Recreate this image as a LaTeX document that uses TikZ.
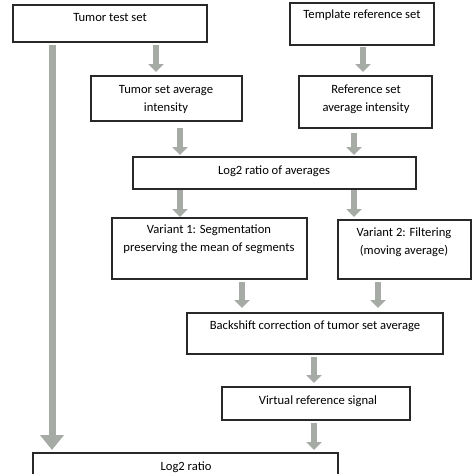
\documentclass[tikz,border=0pt]{standalone}
\usepackage{fontspec}
\setmainfont{Carlito}
\usetikzlibrary{arrows.meta}
\definecolor{arrowc}{RGB}{166,171,166}
\definecolor{boxc}{RGB}{40,40,40}
\tikzset{
  box/.style={draw=boxc, line width=1.2pt, inner sep=0pt, outer sep=0pt, fill=white},
  txt/.style={font=\fontsize{12.6}{18}\selectfont, align=center, inner sep=0pt, anchor=mid, text=black},
  txtc/.style={font=\fontsize{12.6}{18}\selectfont, align=center, inner sep=0pt, anchor=center, text=black},
  garrow/.style={draw=arrowc, line width=6pt, line cap=butt, -{Triangle[width=15pt,length=8pt]}},
  bigarrow/.style={draw=arrowc, line width=7pt, line cap=butt, -{Triangle[width=23pt,length=15pt]}},
}
\begin{document}
\begin{tikzpicture}[x=1pt,y=-1pt]
\useasboundingbox (0,0) rectangle (474,474);
\clip (0,0) rectangle (474,474);
% boxes
\node[box, minimum width=194pt, minimum height=37pt] (tts) at (110,23.5) {};
\node[box, minimum width=144pt, minimum height=42pt] (trs) at (362,24) {};
\node[box, minimum width=151pt, minimum height=45pt] (tavg) at (166.5,98.5) {};
\node[box, minimum width=133pt, minimum height=52pt] (ravg) at (365.5,102) {};
\node[box, minimum width=283pt, minimum height=32pt] (lavg) at (274.5,173) {};
\node[box, minimum width=195pt, minimum height=61pt] (vone) at (209.5,248.5) {};
\node[box, minimum width=133pt, minimum height=59pt] (vtwo) at (404.5,249.5) {};
\node[box, minimum width=256pt, minimum height=41pt] (back) at (315,333.5) {};
\node[box, minimum width=188pt, minimum height=33pt] (virt) at (316,403.5) {};
\node[box, minimum width=305pt, minimum height=42pt] (lrat) at (185.5,474) {};
% texts
\node[txt] (ttst) at (110,19) {Tumor test set};
\node[txt] (trst) at (362,16) {Template reference set};
\node[txtc] (tavgt) at (166,99) {Tumor set average\\intensity};
\node[txtc] (ravgt) at (366,99) {Reference set\\average intensity};
\node[txt] (lavgt) at (274,172) {Log2 ratio of averages};
\node[txtc] (vonet) at (209,239.5) {Variant 1: Segmentation\\preserving the mean of segments};
\node[txtc] (vtwot) at (404,242) {Variant 2: Filtering\\(moving average)};
\node[txt] (backt) at (315,327) {Backshift correction of tumor set average};
\node[txt] (virtt) at (318,402) {Virtual reference signal};
\node[txt] (lratt) at (186,468) {Log2 ratio};
% arrows
\draw[bigarrow] ([yshift=-3pt]tts.south -| 52,0) -- ([yshift=3pt]lrat.north -| 52,0);
\draw[garrow] ([yshift=-3pt]tts.south -| 156,0) -- ([yshift=4pt]tavg.north -| 156,0);
\draw[garrow] ([yshift=-2pt]trs.south -| 363,0) -- ([yshift=4pt]ravg.north -| 363,0);
\draw[garrow] ([yshift=-7pt]tavg.south -| 180,0) -- ([yshift=2pt]lavg.north -| 180,0);
\draw[garrow] ([yshift=-5pt]ravg.south -| 354,0) -- ([yshift=2pt]lavg.north -| 354,0);
\draw[garrow] ([yshift=-1pt]lavg.south -| 180,0) -- ([yshift=1pt]vone.north -| 180,0);
\draw[garrow] ([yshift=-1pt]lavg.south -| 354,0) -- ([yshift=3pt]vtwo.north -| 354,0);
\draw[garrow] ([yshift=-3pt]vone.south -| 242,0) -- ([yshift=5pt]back.north -| 242,0);
\draw[garrow] ([yshift=-3pt]vtwo.south -| 378,0) -- ([yshift=5pt]back.north -| 378,0);
\draw[garrow] ([yshift=-3pt]back.south -| 314,0) -- ([yshift=4pt]virt.north -| 314,0);
\draw[garrow] ([yshift=-3pt]virt.south -| 314,0) -- ([yshift=3pt]lrat.north -| 314,0);
\end{tikzpicture}
\end{document}
